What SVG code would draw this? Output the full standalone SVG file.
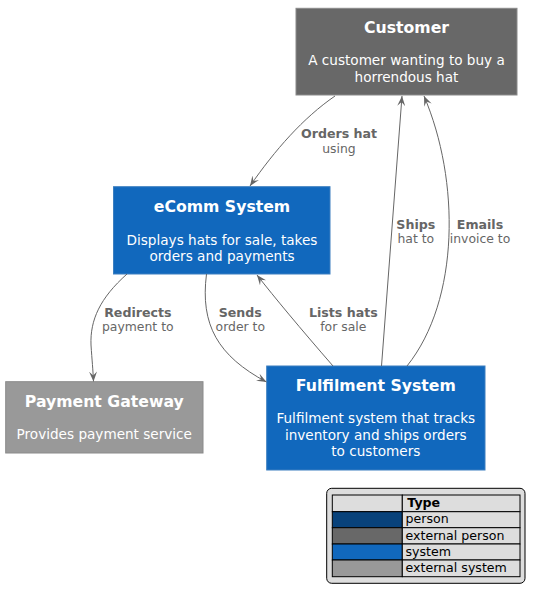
<svg xmlns="http://www.w3.org/2000/svg" width="535" height="593" viewBox="0 0 535 593">
<style>
.title{font-family:"DejaVu Sans",sans-serif;font-weight:bold;font-size:15.7px;fill:#FFFFFF;text-anchor:middle}
.desc{font-family:"DejaVu Sans",sans-serif;font-size:13.6px;fill:#FFFFFF;text-anchor:middle}
.lb{font-family:"DejaVu Sans",sans-serif;font-weight:bold;font-size:12.6px;fill:#666666;text-anchor:middle}
.ln{font-family:"DejaVu Sans",sans-serif;font-size:12.4px;fill:#666666;text-anchor:middle}
.conn{fill:none;stroke:#666666;stroke-width:1;marker-end:url(#arr)}
.lg{font-family:"DejaVu Sans",sans-serif;font-size:12.6px;fill:#000000}
.cell{stroke:#000000;stroke-width:1}
</style>
<defs>
<marker id="arr" viewBox="0 0 10 8" refX="10" refY="4" markerWidth="10" markerHeight="8" orient="auto" markerUnits="userSpaceOnUse">
<path d="M0,0 L10,4 L0,8 L4,4 Z" fill="#666666"/>
</marker>
</defs>
<rect width="535" height="593" fill="#FFFFFF"/>
<g id="customer">
<rect x="296" y="8.3" width="221" height="86.7" fill="#686868" stroke="#8A8A8A" stroke-width="1"/>
<text class="title" x="406.5" y="33">Customer</text>
<text class="desc" x="406.5" y="65">A customer wanting to buy a</text>
<text class="desc" x="406.5" y="81.5">horrendous hat</text>
</g>
<g id="ecomm">
<rect x="113.5" y="186.7" width="216.5" height="87.3" fill="#1168BD" stroke="#3C7FC0" stroke-width="1"/>
<text class="title" x="222" y="211.5">eComm System</text>
<text class="desc" x="222" y="245">Displays hats for sale, takes</text>
<text class="desc" x="222" y="260.7">orders and payments</text>
</g>
<g id="payment">
<rect x="5.7" y="381.7" width="197.3" height="71.3" fill="#999999" stroke="#8A8A8A" stroke-width="1"/>
<text class="title" x="104.3" y="406.5">Payment Gateway</text>
<text class="desc" x="104.3" y="439.3">Provides payment service</text>
</g>
<g id="fulfilment">
<rect x="266.7" y="366" width="218.3" height="104" fill="#1168BD" stroke="#3C7FC0" stroke-width="1"/>
<text class="title" x="375.8" y="390.7">Fulfilment System</text>
<text class="desc" x="375.8" y="423.3">Fulfilment system that tracks</text>
<text class="desc" x="375.8" y="439.5">inventory and ships orders</text>
<text class="desc" x="375.8" y="456">to customers</text>
</g>
<g id="connectors">
<path class="conn" d="M335,96 C303,118 275,150 250,186"/>
<path class="conn" d="M381.5,366 L402,96"/>
<path class="conn" d="M407,366 C460,300 460,180 424,96"/>
<path class="conn" d="M333,366 C300,328 275,298 257,275"/>
<path class="conn" d="M206.5,274 C200,325 218,356 266.5,382"/>
<path class="conn" d="M127,274 C100,298 90,320 91,345 C92,360 93,370 93.5,381.5"/>
<text class="lb" x="339" y="138.3">Orders hat</text>
<text class="ln" x="339" y="152.7">using</text>
<text class="lb" x="415.8" y="228.6">Ships</text>
<text class="ln" x="415.8" y="243">hat to</text>
<text class="lb" x="480" y="228.6">Emails</text>
<text class="ln" x="480" y="243">invoice to</text>
<text class="lb" x="343.3" y="317">Lists hats</text>
<text class="ln" x="343.3" y="331.3">for sale</text>
<text class="lb" x="240.3" y="317">Sends</text>
<text class="ln" x="240.3" y="331.3">order to</text>
<text class="lb" x="137.8" y="317">Redirects</text>
<text class="ln" x="137.8" y="331.3">payment to</text>
</g>
<g id="legend">
<rect x="326.7" y="488.3" width="198.3" height="95" rx="5" ry="5" fill="#DDDDDD" stroke="#000000" stroke-width="1"/>
<rect class="cell" x="332.3" y="495" width="70" height="16.7" fill="#DDDDDD"/>
<rect class="cell" x="402.3" y="495" width="117.7" height="16.7" fill="#DDDDDD"/>
<rect class="cell" x="332.3" y="511.7" width="70" height="16" fill="#08427B"/>
<rect class="cell" x="402.3" y="511.7" width="117.7" height="16" fill="#DDDDDD"/>
<rect class="cell" x="332.3" y="527.7" width="70" height="16.3" fill="#686868"/>
<rect class="cell" x="402.3" y="527.7" width="117.7" height="16.3" fill="#DDDDDD"/>
<rect class="cell" x="332.3" y="544" width="70" height="16" fill="#1168BD"/>
<rect class="cell" x="402.3" y="544" width="117.7" height="16" fill="#DDDDDD"/>
<rect class="cell" x="332.3" y="560" width="70" height="16.7" fill="#999999"/>
<rect class="cell" x="402.3" y="560" width="117.7" height="16.7" fill="#DDDDDD"/>
<text class="lg" x="407.3" y="506.7" font-weight="bold">Type</text>
<text class="lg" x="405.5" y="523.3">person</text>
<text class="lg" x="405.5" y="540">external person</text>
<text class="lg" x="405.5" y="556">system</text>
<text class="lg" x="405.5" y="572.3">external system</text>
</g>
</svg>
